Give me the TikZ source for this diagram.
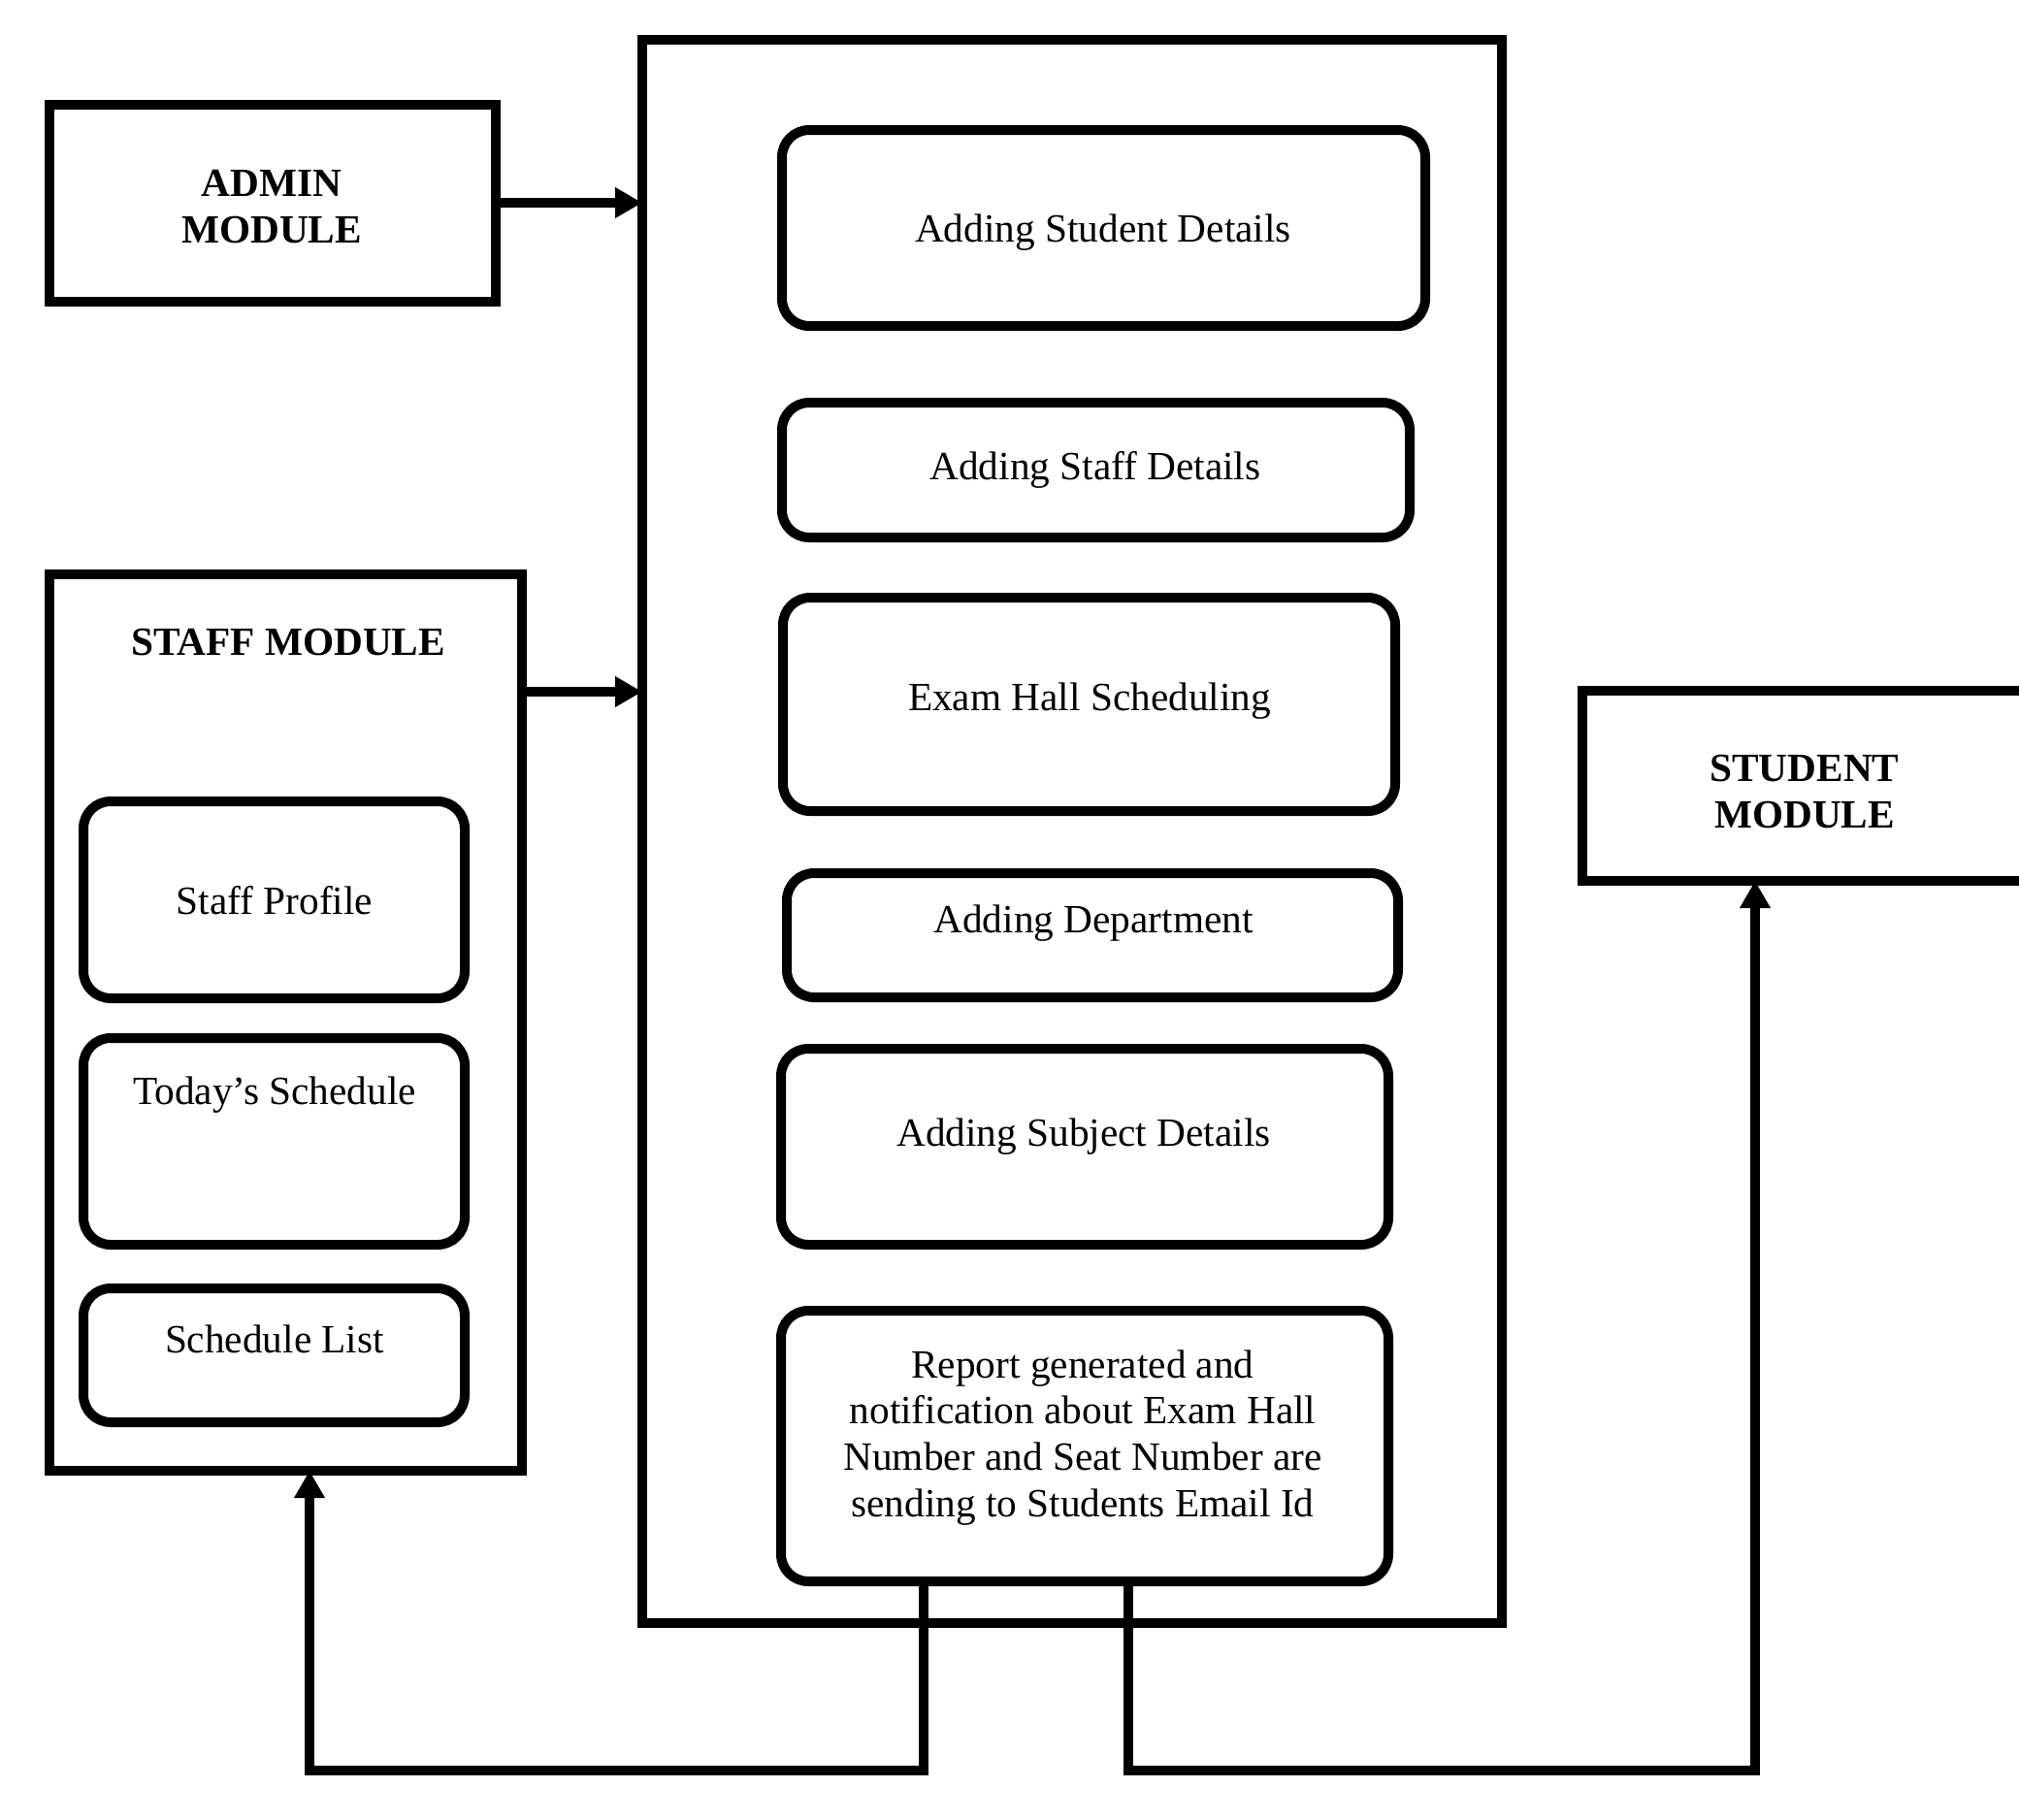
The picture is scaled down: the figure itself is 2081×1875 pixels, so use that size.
\documentclass[tikz,border=0pt]{standalone}
\usepackage{fontspec}
\setmainfont{Liberation Serif}
\usetikzlibrary{arrows.meta}
\begin{document}
\begin{tikzpicture}[x=1pt,y=-1pt,
  sq/.style={draw,line width=10pt,inner sep=0pt},
  rbox/.style={sq,rounded corners=28pt},
  lbl/.style={inner sep=0pt,align=center,font=\fontsize{41.3}{47.8}\selectfont},
  ttl/.style={inner sep=0pt,align=center,font=\fontsize{41.3}{47.8}\selectfont\bfseries},
  conn/.style={line width=10pt},
  arr/.style={line width=10pt,shorten >=-5pt,-{Triangle[length=28pt,width=30pt]}}]
\fill[white] (0,0) rectangle (2081,1875);
\useasboundingbox (0,0) rectangle (2081,1875);

% left modules
\node[sq,minimum width=460pt,minimum height=203pt] (admin) at (281,209) {};
\node[ttl] (adminT) at (280,213) {ADMIN\\MODULE};

\node[sq,minimum width=487pt,minimum height=924pt] (staff) at (294.5,1054) {};
\node[ttl] (staffT) at (297,662) {STAFF MODULE};
\node[rbox,minimum width=393pt,minimum height=203pt] (prof) at (282.5,927.5) {};
\node[lbl] (profT) at (283,928) {Staff Profile};
\node[rbox,minimum width=393pt,minimum height=213pt] (today) at (282.5,1176.5) {};
\node[lbl] (todayT) at (283,1129) {Today’s Schedule};
\node[rbox,minimum width=393pt,minimum height=138pt] (slist) at (282.5,1397) {};
\node[lbl] (slistT) at (283,1380) {Schedule List};

% main column
\node[sq,minimum width=886pt,minimum height=1632pt] (main) at (1105,857) {};
\node[rbox,minimum width=663pt,minimum height=202pt] (stud) at (1137.5,235) {};
\node[lbl] (studT) at (1137,240) {Adding Student Details};
\node[rbox,minimum width=647pt,minimum height=139pt] (stf) at (1129.5,484.5) {};
\node[lbl] (stfT) at (1129,484) {Adding Staff Details};
\node[rbox,minimum width=631pt,minimum height=220pt] (exam) at (1122.5,726) {};
\node[lbl] (examT) at (1123,723) {Exam Hall Scheduling};
\node[rbox,minimum width=630pt,minimum height=128pt] (dept) at (1126,964) {};
\node[lbl] (deptT) at (1127,952) {Adding Department};
\node[rbox,minimum width=626pt,minimum height=202pt] (subj) at (1118,1182) {};
\node[lbl] (subjT) at (1117,1172) {Adding Subject Details};
\node[rbox,minimum width=626pt,minimum height=279pt] (report) at (1118,1490.5) {};
\node[lbl] (reportT) at (1116,1482) {Report generated and\\notification about Exam Hall\\Number and Seat Number are\\sending to Students Email Id};

% student module
\node[sq,minimum width=458pt,minimum height=196pt] (student) at (1860,810) {};
\node[ttl] (studentT) at (1860,816) {STUDENT\\MODULE};

% connectors
\draw[arr] (admin.east) -- (admin.east -| main.west);
\coordinate (sa) at (539,713);
\draw[arr] (staff.north east |- sa) -- (sa -| main.west);

\coordinate (lb) at (952,1825);
\coordinate (lx) at (319,1825);
\coordinate (rb) at (1163,1825);
\coordinate (rx) at (1809,1825);
\draw[arr] (report.south -| lb) -- (lb) -- (lx) -- (lx |- staff.south);
\draw[arr] (report.south -| rb) -- (rb) -- (rx) -- (rx |- student.south);
\end{tikzpicture}
\end{document}
